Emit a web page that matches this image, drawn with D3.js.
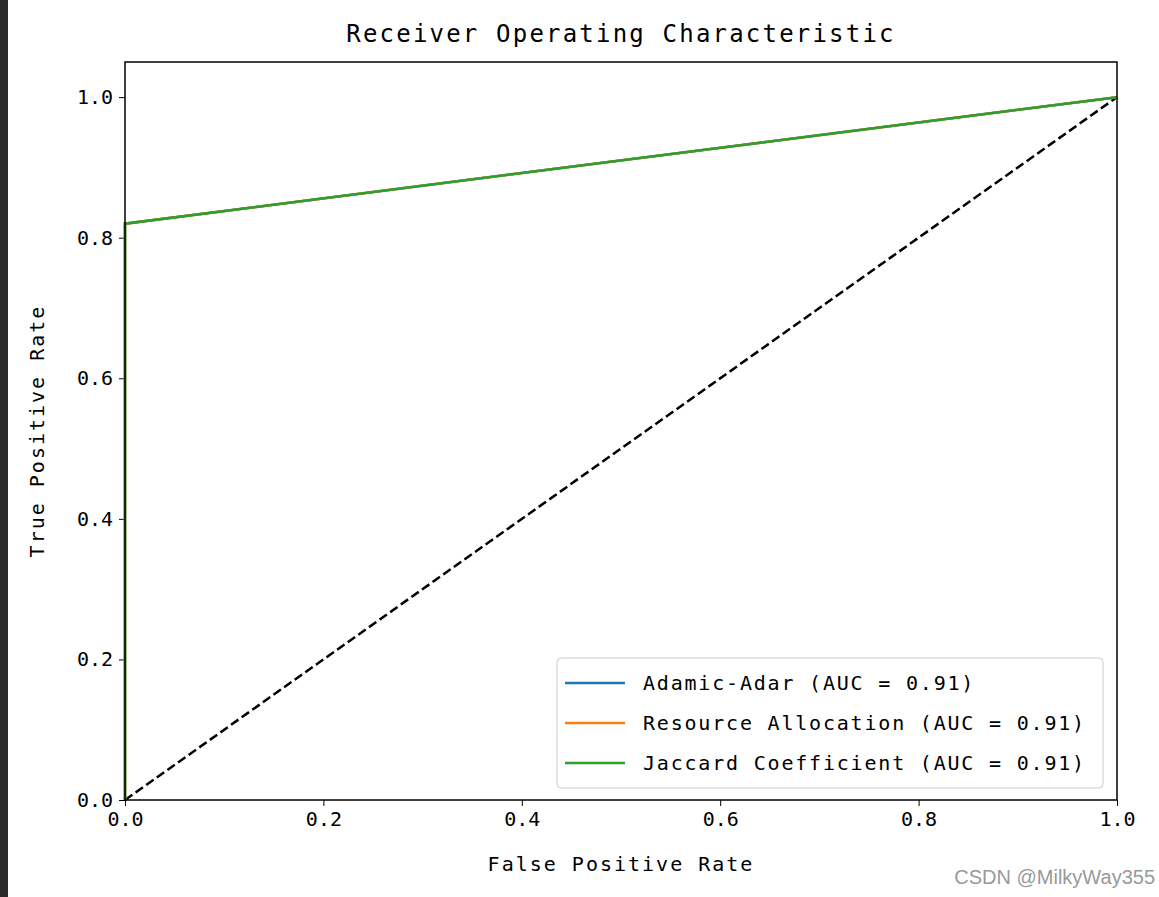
<!DOCTYPE html><html><head><script src="https://cdn.jsdelivr.net/npm/d3@7"></script>
<style>body{margin:0;background:#fff}</style></head><body><script>
const series=["Adamic-Adar (AUC = 0.91)","Resource Allocation (AUC = 0.91)","Jaccard Coefficient (AUC = 0.91)"];
const colors=["#1f77b4","#ff7f0e","#2ca02c"];
const fpr=[0,0,1];
const tpr=[0,0.82,1];
const ticks=[0,0.2,0.4,0.6,0.8,1.0];
const W=1159,H=897,m={l:125,r:1117,t:62,b:800};
const svg=d3.select("body").append("svg").attr("width",W).attr("height",H).style("font-family","'DejaVu Sans Mono',monospace");
svg.append("rect").attr("width",8).attr("height",H).attr("fill","#2b2b2b");
const x=d3.scaleLinear().domain([0,1]).range([m.l,m.r]);
const y=d3.scaleLinear().domain([0,1.05]).range([m.b,m.t]);
const fmt=d=>d.toFixed(1);
const xa=svg.append("g").attr("transform",`translate(0,${m.b})`).call(d3.axisBottom(x).tickValues(ticks).tickFormat(fmt).tickSizeOuter(0).tickSize(6).tickPadding(6));
const ya=svg.append("g").attr("transform",`translate(${m.l},0)`).call(d3.axisLeft(y).tickValues(ticks).tickFormat(fmt).tickSizeOuter(0).tickSize(6).tickPadding(6));
[xa,ya].forEach(a=>{a.selectAll("text").style("font-size","20px").attr("fill","#000").style("font-family","'DejaVu Sans Mono',monospace");a.select(".domain").remove();});
const line=d3.line().x((d,i)=>x(fpr[i])).y(d=>y(d));
svg.append("path").datum([0,1]).attr("d",d3.line().x(d=>x(d)).y(d=>y(d))).attr("stroke","#000").attr("stroke-width",2.5).attr("stroke-dasharray","9,4").attr("fill","none");
series.forEach((s,k)=>svg.append("path").datum(tpr).attr("d",line).attr("stroke",colors[k]).attr("stroke-width",2.5).attr("fill","none"));
svg.append("rect").attr("x",m.l).attr("y",m.t).attr("width",m.r-m.l).attr("height",m.b-m.t).attr("fill","none").attr("stroke","#000").attr("stroke-width",1.5);
const lg=svg.append("g");
lg.append("rect").attr("x",557).attr("y",658).attr("width",546).attr("height",130).attr("rx",4).attr("fill","#fff").attr("fill-opacity",0.8).attr("stroke","#ccc");
series.forEach((s,k)=>{const yy=683+40*k;
lg.append("line").attr("x1",565).attr("x2",625).attr("y1",yy).attr("y2",yy).attr("stroke",colors[k]).attr("stroke-width",2.5);
lg.append("text").attr("x",643).attr("y",yy+7).text(s).style("font-size","20px").style("letter-spacing","1.8px");});
svg.append("text").attr("x",(m.l+m.r)/2).attr("y",42).attr("text-anchor","middle").text("Receiver Operating Characteristic").style("font-size","24px").style("letter-spacing","2.2px");
svg.append("text").attr("x",(m.l+m.r)/2).attr("y",871).attr("text-anchor","middle").text("False Positive Rate").style("font-size","20px").style("letter-spacing","2px");
svg.append("text").attr("transform",`translate(44,${(m.t+m.b)/2}) rotate(-90)`).attr("text-anchor","middle").text("True Positive Rate").style("font-size","20px").style("letter-spacing","2px");
svg.append("text").attr("x",1155).attr("y",884).attr("text-anchor","end").text("CSDN @MilkyWay355").style("font-size","20px").style("font-family","'Liberation Sans',sans-serif").attr("fill","#999");
</script></body></html>
